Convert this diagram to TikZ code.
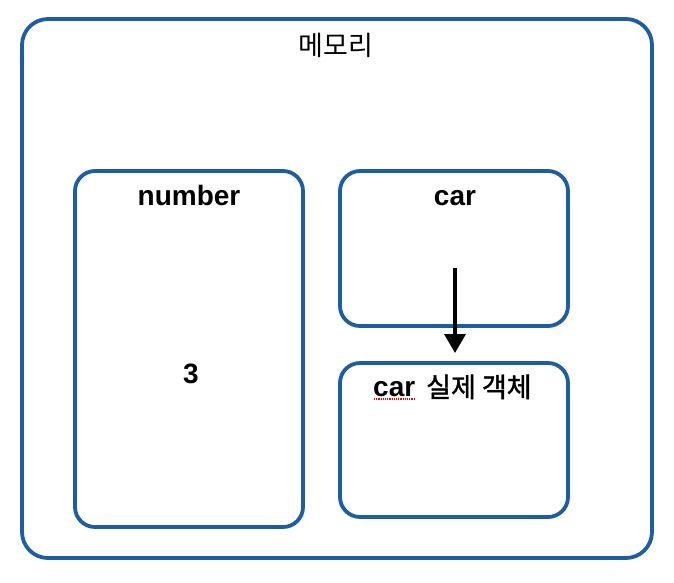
\documentclass[tikz,border=0pt]{standalone}
\usepackage{fontspec}
\setmainfont{Liberation Sans}
\newfontfamily\kofont{Noto Sans CJK KR}
\newfontfamily\kofontb[FakeBold=1.5]{Noto Sans CJK KR}
\usetikzlibrary{arrows.meta}
\definecolor{boxblue}{RGB}{30,94,160}
\tikzset{
  membox/.style={draw=boxblue, line width=3.8pt, rounded corners=20pt},
  lbl/.style={font=\fontsize{28}{30}\selectfont\bfseries, inner sep=0pt},
  klbl/.style={font=\kofont\fontsize{27}{30}\selectfont, inner sep=0pt},
  ptr/.style={line width=3.6pt, -{Triangle[width=21pt,length=19pt]}}
}
\begin{document}
\begin{tikzpicture}[x=1pt,y=-1pt]
\useasboundingbox (0,0) rectangle (674,582);
\draw[membox, rounded corners=26pt] (22,19) rectangle (652,558);
\draw[membox] (75,171) rectangle (303,527);
\draw[membox] (340,171) rectangle (568,326);
\draw[membox] (340,363) rectangle (568,517);
\node[klbl] (mem) at (336,45) {메모리};
\node[lbl, anchor=base] (num) at (189,205) {number};
\node[lbl, anchor=base] (car) at (455,205) {car};
\node[lbl, anchor=base] (three) at (191,383) {3};
\node[anchor=base west, inner sep=0pt] (objcar) at (373,396) {\fontsize{28}{30}\selectfont\bfseries car};
\node[anchor=base west, inner sep=0pt] (obj) at (426,397) {\kofontb\fontsize{27}{30}\selectfont 실제 객체};
\coordinate (as) at (455,268);
\coordinate (ae) at (455,353);
\draw[ptr] (as) -- (ae);
\draw[red, densely dotted, line width=1.2pt] (objcar.base west) ++(1,3) coordinate (ul1) -- ++(40,0) coordinate (ul2);
\end{tikzpicture}
\end{document}
